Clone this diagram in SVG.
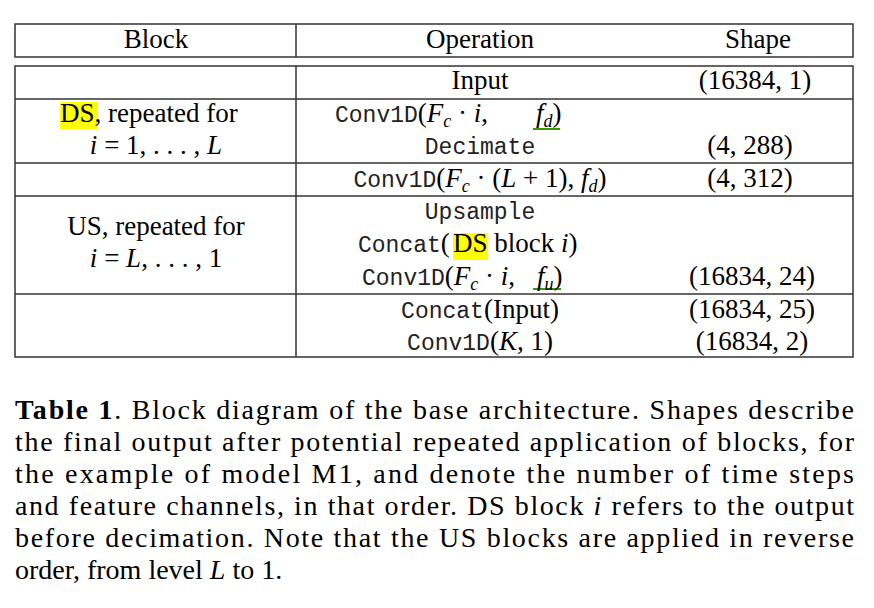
<svg xmlns="http://www.w3.org/2000/svg" width="874" height="608" viewBox="0 0 874 608">
<style>
.s{font-family:"Liberation Serif",serif;font-size:27px;fill:#000}
.m{font-family:"Liberation Mono",monospace;font-size:23px;fill:#222}
.i{font-style:italic}
.c{font-family:"Liberation Serif",serif;font-size:28px;fill:#000}
line{stroke:#333;stroke-width:1.5}
</style>
<rect width="874" height="608" fill="#fff"/>
<g id="table" fill="none">
<rect x="15" y="24" width="838" height="33" fill="none" stroke="#333" stroke-width="1.5"/>
<line x1="296" y1="24" x2="296" y2="57"/>
<rect x="15" y="66" width="838" height="291" fill="none" stroke="#333" stroke-width="1.5"/>
<line x1="296" y1="66" x2="296" y2="357"/>
<line x1="15" y1="99" x2="853" y2="99"/>
<line x1="15" y1="163" x2="853" y2="163"/>
<line x1="15" y1="196" x2="853" y2="196"/>
<line x1="15" y1="294" x2="853" y2="294"/>
<rect x="60" y="102" width="38" height="27" fill="#ffff00"/>
<rect x="453" y="233" width="35" height="27" fill="#ffff00"/>
<line x1="533" y1="129" x2="560" y2="129" style="stroke:#3a9a00;stroke-width:2"/>
<line x1="533" y1="289" x2="561" y2="289" style="stroke:#3a9a00;stroke-width:2"/>
</g>
<g id="text">
<text class="s" x="156" y="48" text-anchor="middle">Block</text>
<text class="s" x="480" y="48" text-anchor="middle">Operation</text>
<text class="s" x="758" y="48" text-anchor="middle">Shape</text>
<text class="s" x="480" y="89" text-anchor="middle">Input</text>
<text class="s" x="755" y="89" text-anchor="middle">(16384, 1)</text>
<text class="s" x="60" y="122">DS, repeated for</text>
<text class="s" x="156" y="154" text-anchor="middle"><tspan class="i">i</tspan> = 1, . . . , <tspan class="i">L</tspan></text>
<text x="335" y="122"><tspan class="m">Conv1D</tspan><tspan class="s">(<tspan class="i">F</tspan><tspan font-size="18" class="i" dy="5">c</tspan><tspan dy="-5"> · </tspan><tspan class="i">i</tspan>, <tspan class="i" x="536">f</tspan><tspan font-size="18" class="i" dy="5">d</tspan><tspan dy="-5">)</tspan></tspan></text>
<text class="m" x="480" y="154" text-anchor="middle">Decimate</text>
<text class="s" x="750" y="154" text-anchor="middle">(4, 288)</text>
<text x="480" y="187" text-anchor="middle"><tspan class="m">Conv1D</tspan><tspan class="s">(<tspan class="i">F</tspan><tspan font-size="18" class="i" dy="5">c</tspan><tspan dy="-5"> · (</tspan><tspan class="i">L</tspan> + 1), <tspan class="i">f</tspan><tspan font-size="18" class="i" dy="5">d</tspan><tspan dy="-5">)</tspan></tspan></text>
<text class="s" x="750" y="187" text-anchor="middle">(4, 312)</text>
<text class="s" x="156" y="235" text-anchor="middle">US, repeated for</text>
<text class="s" x="156" y="267" text-anchor="middle"><tspan class="i">i</tspan> = <tspan class="i">L</tspan>, . . . , 1</text>
<text class="m" x="480" y="219" text-anchor="middle">Upsample</text>
<text x="358" y="252"><tspan class="m">Concat</tspan><tspan class="s">(</tspan><tspan class="s" x="453">DS block <tspan class="i">i</tspan>)</tspan></text>
<text x="362" y="285"><tspan class="m">Conv1D</tspan><tspan class="s">(<tspan class="i">F</tspan><tspan font-size="18" class="i" dy="5">c</tspan><tspan dy="-5"> · </tspan><tspan class="i">i</tspan>, <tspan class="i" x="537">f</tspan><tspan font-size="18" class="i" dy="5">u</tspan><tspan dy="-5">)</tspan></tspan></text>
<text class="s" x="752" y="285" text-anchor="middle">(16834, 24)</text>
<text x="480" y="318" text-anchor="middle"><tspan class="m">Concat</tspan><tspan class="s">(Input)</tspan></text>
<text class="s" x="752" y="318" text-anchor="middle">(16834, 25)</text>
<text x="480" y="350" text-anchor="middle"><tspan class="m">Conv1D</tspan><tspan class="s">(<tspan class="i">K</tspan>, 1)</tspan></text>
<text class="s" x="752" y="350" text-anchor="middle">(16834, 2)</text>
</g>
<g id="caption">
<text class="c" x="15" y="419" textLength="839" lengthAdjust="spacing"><tspan font-weight="bold">Table 1</tspan>. Block diagram of the base architecture. Shapes describe</text>
<text class="c" x="15" y="451" textLength="839" lengthAdjust="spacing">the final output after potential repeated application of blocks, for</text>
<text class="c" x="15" y="483" textLength="839" lengthAdjust="spacing">the example of model M1, and denote the number of time steps</text>
<text class="c" x="15" y="515" textLength="839" lengthAdjust="spacing">and feature channels, in that order. DS block <tspan class="i">i</tspan> refers to the output</text>
<text class="c" x="15" y="547" textLength="839" lengthAdjust="spacing">before decimation. Note that the US blocks are applied in reverse</text>
<text class="c" x="15" y="579">order, from level <tspan class="i">L</tspan> to 1.</text>
</g>
</svg>
